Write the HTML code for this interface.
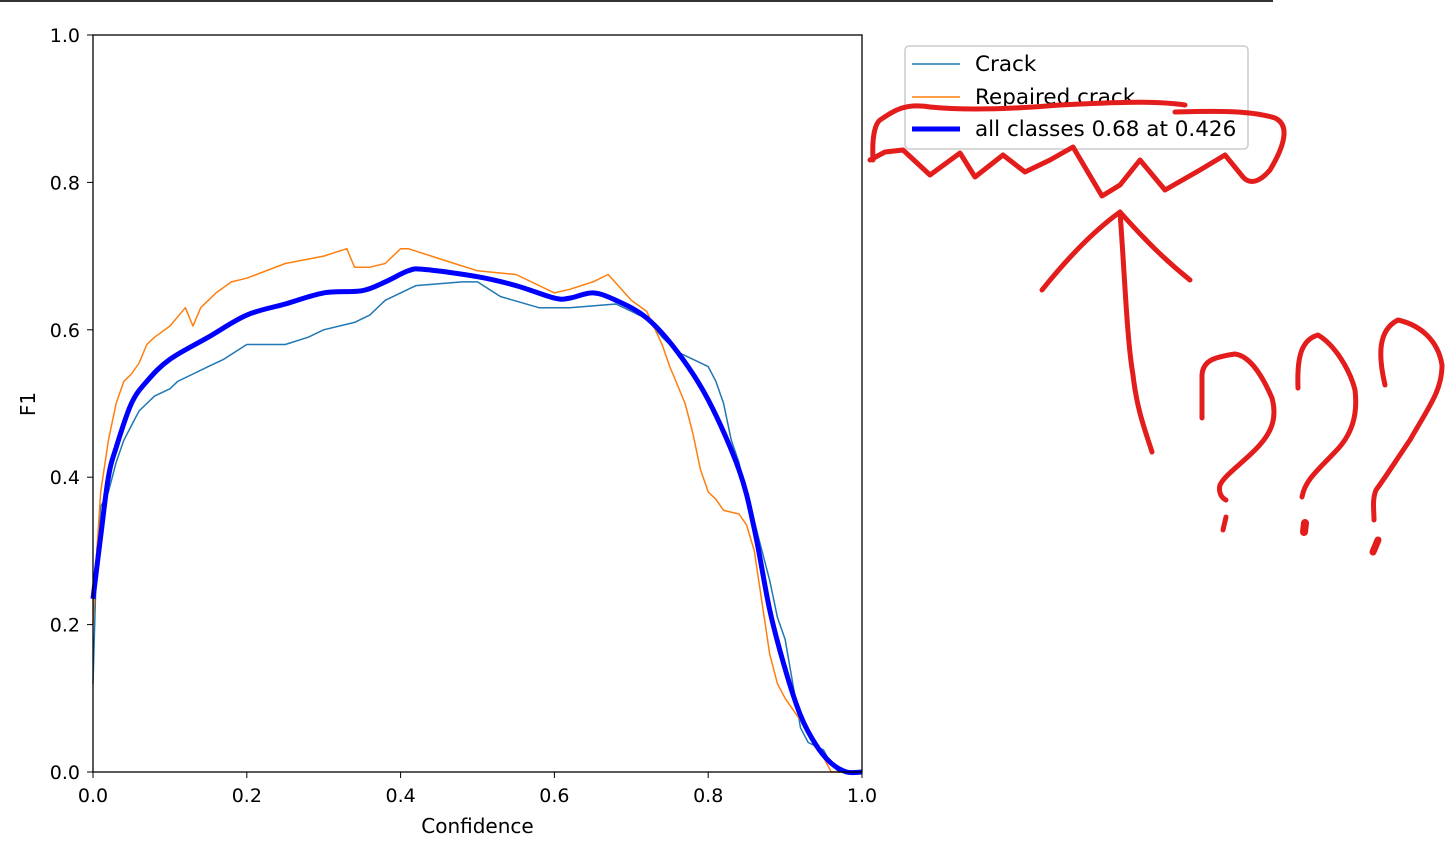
<!DOCTYPE html>
<html><head><meta charset="utf-8"><style>
body{margin:0;background:#fff;width:1446px;height:849px;overflow:hidden;font-family:"Liberation Sans","DejaVu Sans",sans-serif}
svg text{font-family:"DejaVu Sans","Liberation Sans",sans-serif}
</style></head><body>
<svg id="chart" width="1446" height="849" xmlns="http://www.w3.org/2000/svg">
<line x1="0" y1="1" x2="1273" y2="1" stroke="#333" stroke-width="2"/>
<g id="plot"></g>
<g id="legend">
<rect x="905" y="46" width="343" height="103" rx="4" fill="#fff" stroke="#ccc" stroke-width="1.5"/>
<line x1="912" y1="64" x2="960" y2="64" stroke="#1f77b4" stroke-width="1.5"/>
<text x="975" y="71" font-size="21.5">Crack</text>
<line x1="912" y1="97" x2="960" y2="97" stroke="#ff7f0e" stroke-width="1.5"/>
<text x="975" y="104" font-size="21.5">Repaired crack</text>
<line x1="912" y1="129" x2="960" y2="129" stroke="#0000ff" stroke-width="5"/>
<text x="975" y="136" font-size="21.5">all classes 0.68 at 0.426</text>
</g>
<g fill="none" stroke="#e31c1c" stroke-width="5" stroke-linecap="round" stroke-linejoin="round">
<path d="M873,160 C872,140 874,125 880,120 C895,110 905,103 930,107 C960,110 1000,110 1060,105 C1100,103 1150,100 1185,105"/>
<path d="M1175,112 C1210,111 1250,110 1275,118 C1290,125 1285,145 1270,170 C1260,182 1250,185 1243,177 L1225,155 L1200,170 L1165,190 L1140,160 L1120,185 L1102,196 L1073,147 L1050,160 L1025,172 L1003,155 L975,177 L960,153 L930,175 L903,150 L885,152 L870,160"/>
<path d="M1042,290 C1070,255 1095,230 1120,212 C1145,240 1165,260 1190,280"/>
<path d="M1120,212 C1125,280 1127,340 1133,375 C1137,410 1145,430 1152,452"/>
<path d="M1202,418 L1202,375 C1203,360 1215,357 1235,354 C1250,356 1262,375 1272,398 C1278,420 1270,435 1255,450 C1240,465 1225,475 1220,485 C1218,493 1222,498 1226,500"/>
<path d="M1226,517 L1223,530"/>
<path d="M1298,388 C1297,360 1300,340 1318,335 C1335,345 1350,370 1355,390 C1358,415 1352,435 1335,452 C1318,470 1305,480 1302,497"/>
<path d="M1305,523 L1304,532" stroke-width="8"/>
<path d="M1385,385 C1378,355 1378,330 1398,320 C1420,325 1438,340 1442,365 C1442,390 1430,405 1410,440 C1395,462 1385,478 1376,490 C1372,500 1374,510 1374,520"/>
<path d="M1378,540 L1373,552" stroke-width="7"/>
</g>
</svg>
<script>
const xCrack=[0,0.005,0.01,0.02,0.03,0.04,0.05,0.06,0.07,0.08,0.1,0.11,0.13,0.15,0.17,0.2,0.25,0.28,0.3,0.34,0.36,0.38,0.4,0.42,0.48,0.5,0.53,0.58,0.62,0.68,0.72,0.74,0.76,0.8,0.81,0.82,0.83,0.84,0.85,0.86,0.87,0.88,0.89,0.9,0.91,0.92,0.93,0.95,0.96,0.97,1];
const yCrack=[0.12,0.3,0.36,0.38,0.42,0.45,0.47,0.49,0.5,0.51,0.52,0.53,0.54,0.55,0.56,0.58,0.58,0.59,0.6,0.61,0.62,0.64,0.65,0.66,0.665,0.665,0.645,0.63,0.63,0.635,0.615,0.59,0.57,0.55,0.53,0.5,0.45,0.42,0.37,0.34,0.3,0.26,0.21,0.18,0.12,0.06,0.04,0.03,0.01,0,0];
const xRep=[0,0.005,0.01,0.02,0.03,0.04,0.05,0.06,0.07,0.08,0.1,0.12,0.13,0.14,0.16,0.18,0.2,0.25,0.3,0.33,0.34,0.36,0.38,0.4,0.41,0.44,0.47,0.5,0.55,0.6,0.62,0.65,0.67,0.7,0.72,0.74,0.75,0.77,0.78,0.79,0.8,0.81,0.82,0.84,0.85,0.86,0.87,0.88,0.89,0.9,0.92,0.94,0.95,0.955,0.96,1];
const yRep=[0.2,0.3,0.38,0.45,0.5,0.53,0.54,0.555,0.58,0.59,0.605,0.63,0.605,0.63,0.65,0.665,0.67,0.69,0.7,0.71,0.685,0.685,0.69,0.71,0.71,0.7,0.69,0.68,0.675,0.65,0.655,0.665,0.675,0.64,0.625,0.58,0.55,0.5,0.46,0.41,0.38,0.37,0.355,0.35,0.335,0.3,0.23,0.16,0.12,0.1,0.07,0.04,0.02,0.01,0,0];
const xAll=[0,0.01,0.02,0.03,0.05,0.07,0.1,0.15,0.2,0.25,0.3,0.35,0.38,0.41,0.43,0.5,0.55,0.6,0.62,0.65,0.68,0.72,0.76,0.8,0.84,0.86,0.88,0.9,0.92,0.94,0.96,0.98,1];
const yAll=[0.235,0.32,0.4,0.44,0.5,0.53,0.56,0.59,0.62,0.635,0.65,0.653,0.665,0.68,0.682,0.672,0.66,0.643,0.643,0.65,0.64,0.616,0.57,0.505,0.41,0.33,0.22,0.14,0.077,0.037,0.012,0,0];
const tickVals=[0,0.2,0.4,0.6,0.8,1.0];
const tickLabels=["0.0","0.2","0.4","0.6","0.8","1.0"];
const X0=93,X1=862,Y0=772,Y1=35;
const sx=v=>X0+v*(X1-X0), sy=v=>Y0-v*(Y0-Y1);
const NS="http://www.w3.org/2000/svg", g=document.getElementById('plot');
function mk(t,a){const e=document.createElementNS(NS,t);for(const k in a)e.setAttribute(k,a[k]);g.appendChild(e);return e;}
function line(xs,ys,c,w,n,smooth){let d;
 const P=xs.map((x,i)=>[sx(x),sy(ys[i])]);
 if(!smooth){d=P.map((p,i)=>(i?'L':'M')+p[0].toFixed(1)+','+p[1].toFixed(1)).join(' ');}
 else{d='M'+P[0][0]+','+P[0][1];for(let i=0;i<P.length-1;i++){const p0=P[i-1]||P[i],p1=P[i],p2=P[i+1],p3=P[i+2]||p2;
  const c1=[p1[0]+(p2[0]-p0[0])/6,p1[1]+(p2[1]-p0[1])/6],c2=[p2[0]-(p3[0]-p1[0])/6,p2[1]-(p3[1]-p1[1])/6];
  d+=' C'+c1[0].toFixed(1)+','+c1[1].toFixed(1)+' '+c2[0].toFixed(1)+','+c2[1].toFixed(1)+' '+p2[0].toFixed(1)+','+p2[1].toFixed(1);}}
 const p=mk('path',{d:d,fill:'none',stroke:c,'stroke-width':w,'stroke-linejoin':'round'});
 
 }
line(xCrack,yCrack,'#1f77b4',1.5,'crack-line',false);
line(xRep,yRep,'#ff7f0e',1.5,'repaired-crack-line',false);
line(xAll,yAll,'#0000ff',5,'all-classes-line',true);
const fr=mk('rect',{x:X0,y:Y1,width:X1-X0,height:Y0-Y1,fill:'none',stroke:'#000','stroke-width':1.3});


tickVals.forEach((v,i)=>{
 mk('line',{x1:sx(v),y1:Y0,x2:sx(v),y2:Y0+6,stroke:'#000'});
 const tx=mk('text',{x:sx(v),y:Y0+30,'font-size':19,'text-anchor':'middle'});tx.textContent=tickLabels[i];
 
 
 mk('line',{x1:X0-6,y1:sy(v),x2:X0,y2:sy(v),stroke:'#000'});
 const ty=mk('text',{x:X0-13,y:sy(v)+7,'font-size':19,'text-anchor':'end'});ty.textContent=tickLabels[i];
 
 
});
const xt=mk('text',{x:(X0+X1)/2,y:833,'font-size':20,'text-anchor':'middle'});xt.textContent='Confidence';


const yt=mk('text',{x:0,y:0,'font-size':20,'text-anchor':'middle',transform:'translate(35,404) rotate(-90)'});yt.textContent='F1';


</script>
</body></html>
